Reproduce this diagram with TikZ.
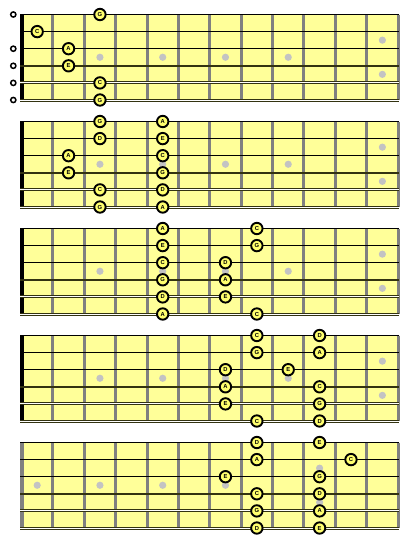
\documentclass[tikz,border=0pt]{standalone}
\usepackage{fontspec}
\setsansfont{Liberation Sans}

\definecolor{boardyellow}{RGB}{255,255,153}
\definecolor{noteyellow}{RGB}{255,255,110}
\definecolor{fretgray}{RGB}{128,128,128}
\definecolor{dotgray}{RGB}{195,195,195}
\definecolor{dstring}{RGB}{51,51,17}

% note on fret space #2, string #3
\newcommand{\nt}[4]{\node[note] (#1) at ({21.5+(#2-0.5)*31.38},{(#3-1)*17.1}) {#4};}

\tikzset{
  fret/.style={draw=fretgray, line width=3pt},
  note/.style={circle, draw=black, line width=1.9pt, fill=noteyellow,
    minimum size=11.4pt, inner sep=0pt,
    font=\sffamily\bfseries\fontsize{5.8}{6}\selectfont},
  openstring/.style={circle, draw=black, line width=1.5pt, fill=white,
    minimum size=5.2pt, inner sep=0pt},
  inlay/.style={fill=dotgray},
  pics/board/.style n args={3}{code={
    \fill[boardyellow] (21.5,0) rectangle (398,85.5);
    % inlays
    \foreach \d in {#2} \fill[inlay] ({21.5+(\d-0.5)*31.38},42.75) circle (3.6pt);
    \foreach \d in {#3} {
      \fill[inlay] ({21.5+(\d-0.5)*31.38},25.65) circle (3.6pt);
      \fill[inlay] ({21.5+(\d-0.5)*31.38},59.85) circle (3.6pt);
    }
    % frets and nut
    \foreach \f in {1,...,12} \draw[fret] ({21.5+\f*31.38},0) -- ++(0,85.5);
    \draw[line width=4pt, #1] (22,0) -- (22,85.5);
    % strings
    \foreach \s in {1,2,3} \draw[line width=0.9pt] (20,{(\s-1)*17.1}) -- (399,{(\s-1)*17.1});
    \draw[line width=1.8pt, dstring] (20,51.3) -- (399,51.3);
    \foreach \s in {5,6} {
      \draw[line width=3pt, dstring] (20,{(\s-1)*17.1}) -- (399,{(\s-1)*17.1});
      \draw[line width=1pt, white] (20,{(\s-1)*17.1}) -- (399,{(\s-1)*17.1});
    }
  }}
}

\begin{document}
\begin{tikzpicture}[x=1pt, y=-1pt]
\useasboundingbox (0,0) rectangle (411,539);

% C shape
\pic at (0,14.5) {board={black}{3,5,7,9}{12}};
\begin{scope}[shift={(0,14.5)}]
  \foreach \s in {1,3,4,5,6} \node[openstring] (open\s) at (13.3,{(\s-1)*17.1}) {};
  \nt{a1}{1}{2}{C} \nt{a2}{2}{3}{A} \nt{a3}{2}{4}{E}
  \nt{a4}{3}{1}{G} \nt{a5}{3}{5}{C} \nt{a6}{3}{6}{G}
\end{scope}

% A shape
\pic at (0,121.5) {board={black}{3,5,7,9}{12}};
\begin{scope}[shift={(0,121.5)}]
  \nt{b1}{3}{1}{G} \nt{b2}{3}{2}{D} \nt{b3}{2}{3}{A}
  \nt{b4}{2}{4}{E} \nt{b5}{3}{5}{C} \nt{b6}{3}{6}{G}
  \nt{b7}{5}{1}{A} \nt{b8}{5}{2}{E} \nt{b9}{5}{3}{C}
  \nt{b10}{5}{4}{G} \nt{b11}{5}{5}{D} \nt{b12}{5}{6}{A}
\end{scope}

% G shape
\pic at (0,228.5) {board={black}{3,5,7,9}{12}};
\begin{scope}[shift={(0,228.5)}]
  \nt{c1}{5}{1}{A} \nt{c2}{5}{2}{E} \nt{c3}{5}{3}{C}
  \nt{c4}{5}{4}{G} \nt{c5}{5}{5}{D} \nt{c6}{5}{6}{A}
  \nt{c7}{7}{3}{D} \nt{c8}{7}{4}{A} \nt{c9}{7}{5}{E}
  \nt{c10}{8}{1}{C} \nt{c11}{8}{2}{G} \nt{c12}{8}{6}{C}
\end{scope}

% E shape
\pic at (0,335.5) {board={black}{3,5,7,9}{12}};
\begin{scope}[shift={(0,335.5)}]
  \nt{d1}{8}{1}{C} \nt{d2}{8}{2}{G} \nt{d3}{7}{3}{D}
  \nt{d4}{7}{4}{A} \nt{d5}{7}{5}{E} \nt{d6}{8}{6}{C}
  \nt{d7}{10}{1}{D} \nt{d8}{10}{2}{A} \nt{d9}{9}{3}{E}
  \nt{d10}{10}{4}{C} \nt{d11}{10}{5}{G} \nt{d12}{10}{6}{D}
\end{scope}

% D shape (frets 3 to 14)
\pic at (0,442.5) {board={fretgray}{1,3,5,7}{10}};
\begin{scope}[shift={(0,442.5)}]
  \nt{e1}{8}{1}{D} \nt{e2}{8}{2}{A} \nt{e3}{7}{3}{E}
  \nt{e4}{8}{4}{C} \nt{e5}{8}{5}{G} \nt{e6}{8}{6}{D}
  \nt{e7}{10}{1}{E} \nt{e8}{11}{2}{C} \nt{e9}{10}{3}{G}
  \nt{e10}{10}{4}{D} \nt{e11}{10}{5}{A} \nt{e12}{10}{6}{E}
\end{scope}

\end{tikzpicture}
\end{document}
